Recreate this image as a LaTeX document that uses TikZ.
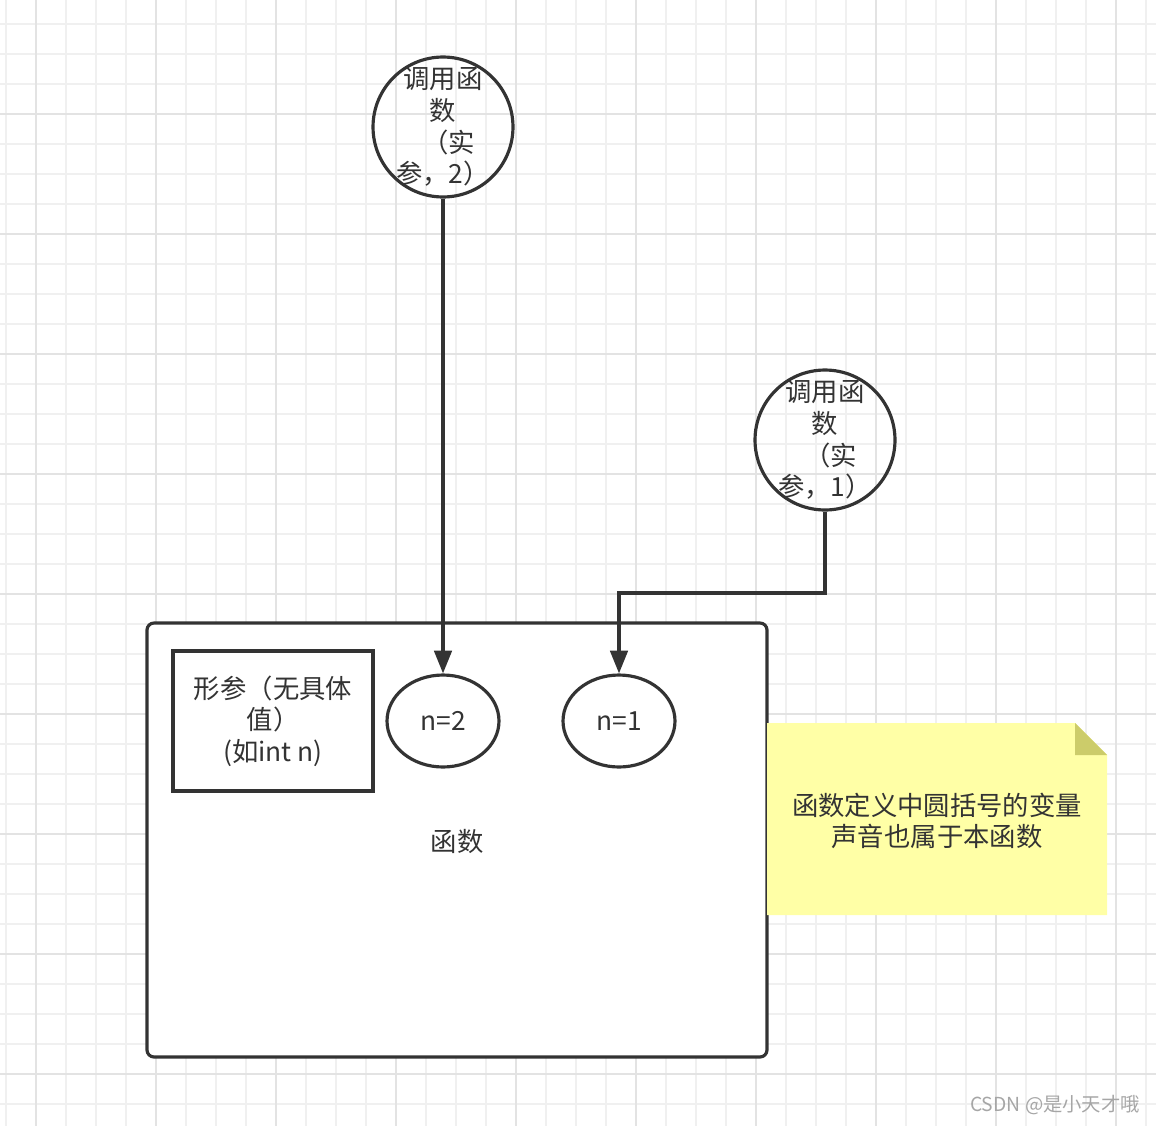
\documentclass[tikz,border=0pt]{standalone}
\usepackage{fontspec}
\setmainfont{Noto Sans CJK SC}
\usetikzlibrary{arrows.meta,positioning,shapes.geometric}
\definecolor{inkgray}{HTML}{333333}
\definecolor{notefill}{HTML}{FFFFA6}
\definecolor{notefold}{HTML}{CCCC6A}
\tikzset{
  stroke/.style={draw=inkgray, line width=1.8pt},
  callnode/.style={stroke, circle, minimum size=2.8cm, inner sep=-12pt, align=center, font=\fontsize{15}{18}\selectfont, text=inkgray},
  valnode/.style={stroke, ellipse, minimum width=2.24cm, minimum height=1.84cm, font=\fontsize{15}{18}\selectfont, text=inkgray},
  link/.style={stroke, -{Triangle[length=13pt,width=10pt]}},
  txt/.style={font=\fontsize{15}{18}\selectfont, text=inkgray, align=center}
}
\begin{document}
\begin{tikzpicture}[x=0.02cm, y=-0.02cm]
		
		\useasboundingbox (0,0) rectangle (1156,1126);
		
		% grid
		\foreach \i in {6,36,...,1156}{
			\draw[gray!12, line width=0.6pt] (\i,0)--(\i,1126);
		}
		\foreach \j in {24,54,...,1126}{
			\draw[gray!12, line width=0.6pt] (0,\j)--(1156,\j);
		}
		\foreach \i in {36,156,...,1156}{
			\draw[gray!22, line width=0.8pt] (\i,0)--(\i,1126);
		}
		\foreach \j in {114,234,...,1126}{
			\draw[gray!22, line width=0.8pt] (0,\j)--(1156,\j);
		}
		
		% function box
		\draw[stroke, fill=white, rounded corners=4pt] (147,623) rectangle (767,1057);
		\node[txt] (func) at (457,841) {函数};
		
		% parameter box
		\node[stroke, fill=white, minimum width=4cm, minimum height=2.8cm, txt, inner sep=0pt] (param) at (273,721)
			{形参（无具体\\值）\\(如int n)};
		
		% values
		\node[valnode] (n2) at (443,721) {n=2};
		\node[valnode] (n1) at (619,721) {n=1};
		
		% calls
		\node[callnode] (call2) at (443,127) {调用函\\数\\\ \ （实\\参，2）};
		\node[callnode] (call1) at (825,440) {调用函\\数\\\ \ （实\\参，1）};
		
		% connectors
		\coordinate (bend) at (825,593);
		\draw[link] (call2) -- (n2);
		\draw[link] (call1) -- (bend) -| (n1);
		
		% note
		\fill[notefill] (767,723) -- (1075,723) -- (1107,755) -- (1107,915) -- (767,915) -- cycle;
		\fill[notefold] (1075,723) -- (1107,755) -- (1075,755) -- cycle;
		\node[txt] (note) at (937,821) {函数定义中圆括号的变量\\声音也属于本函数};
		
		% watermark
		\node[font=\fontsize{11}{13}\selectfont, text=gray!70] (mark) at (1055,1105) {CSDN @是小天才哦};
		
	\end{tikzpicture}
\end{document}
